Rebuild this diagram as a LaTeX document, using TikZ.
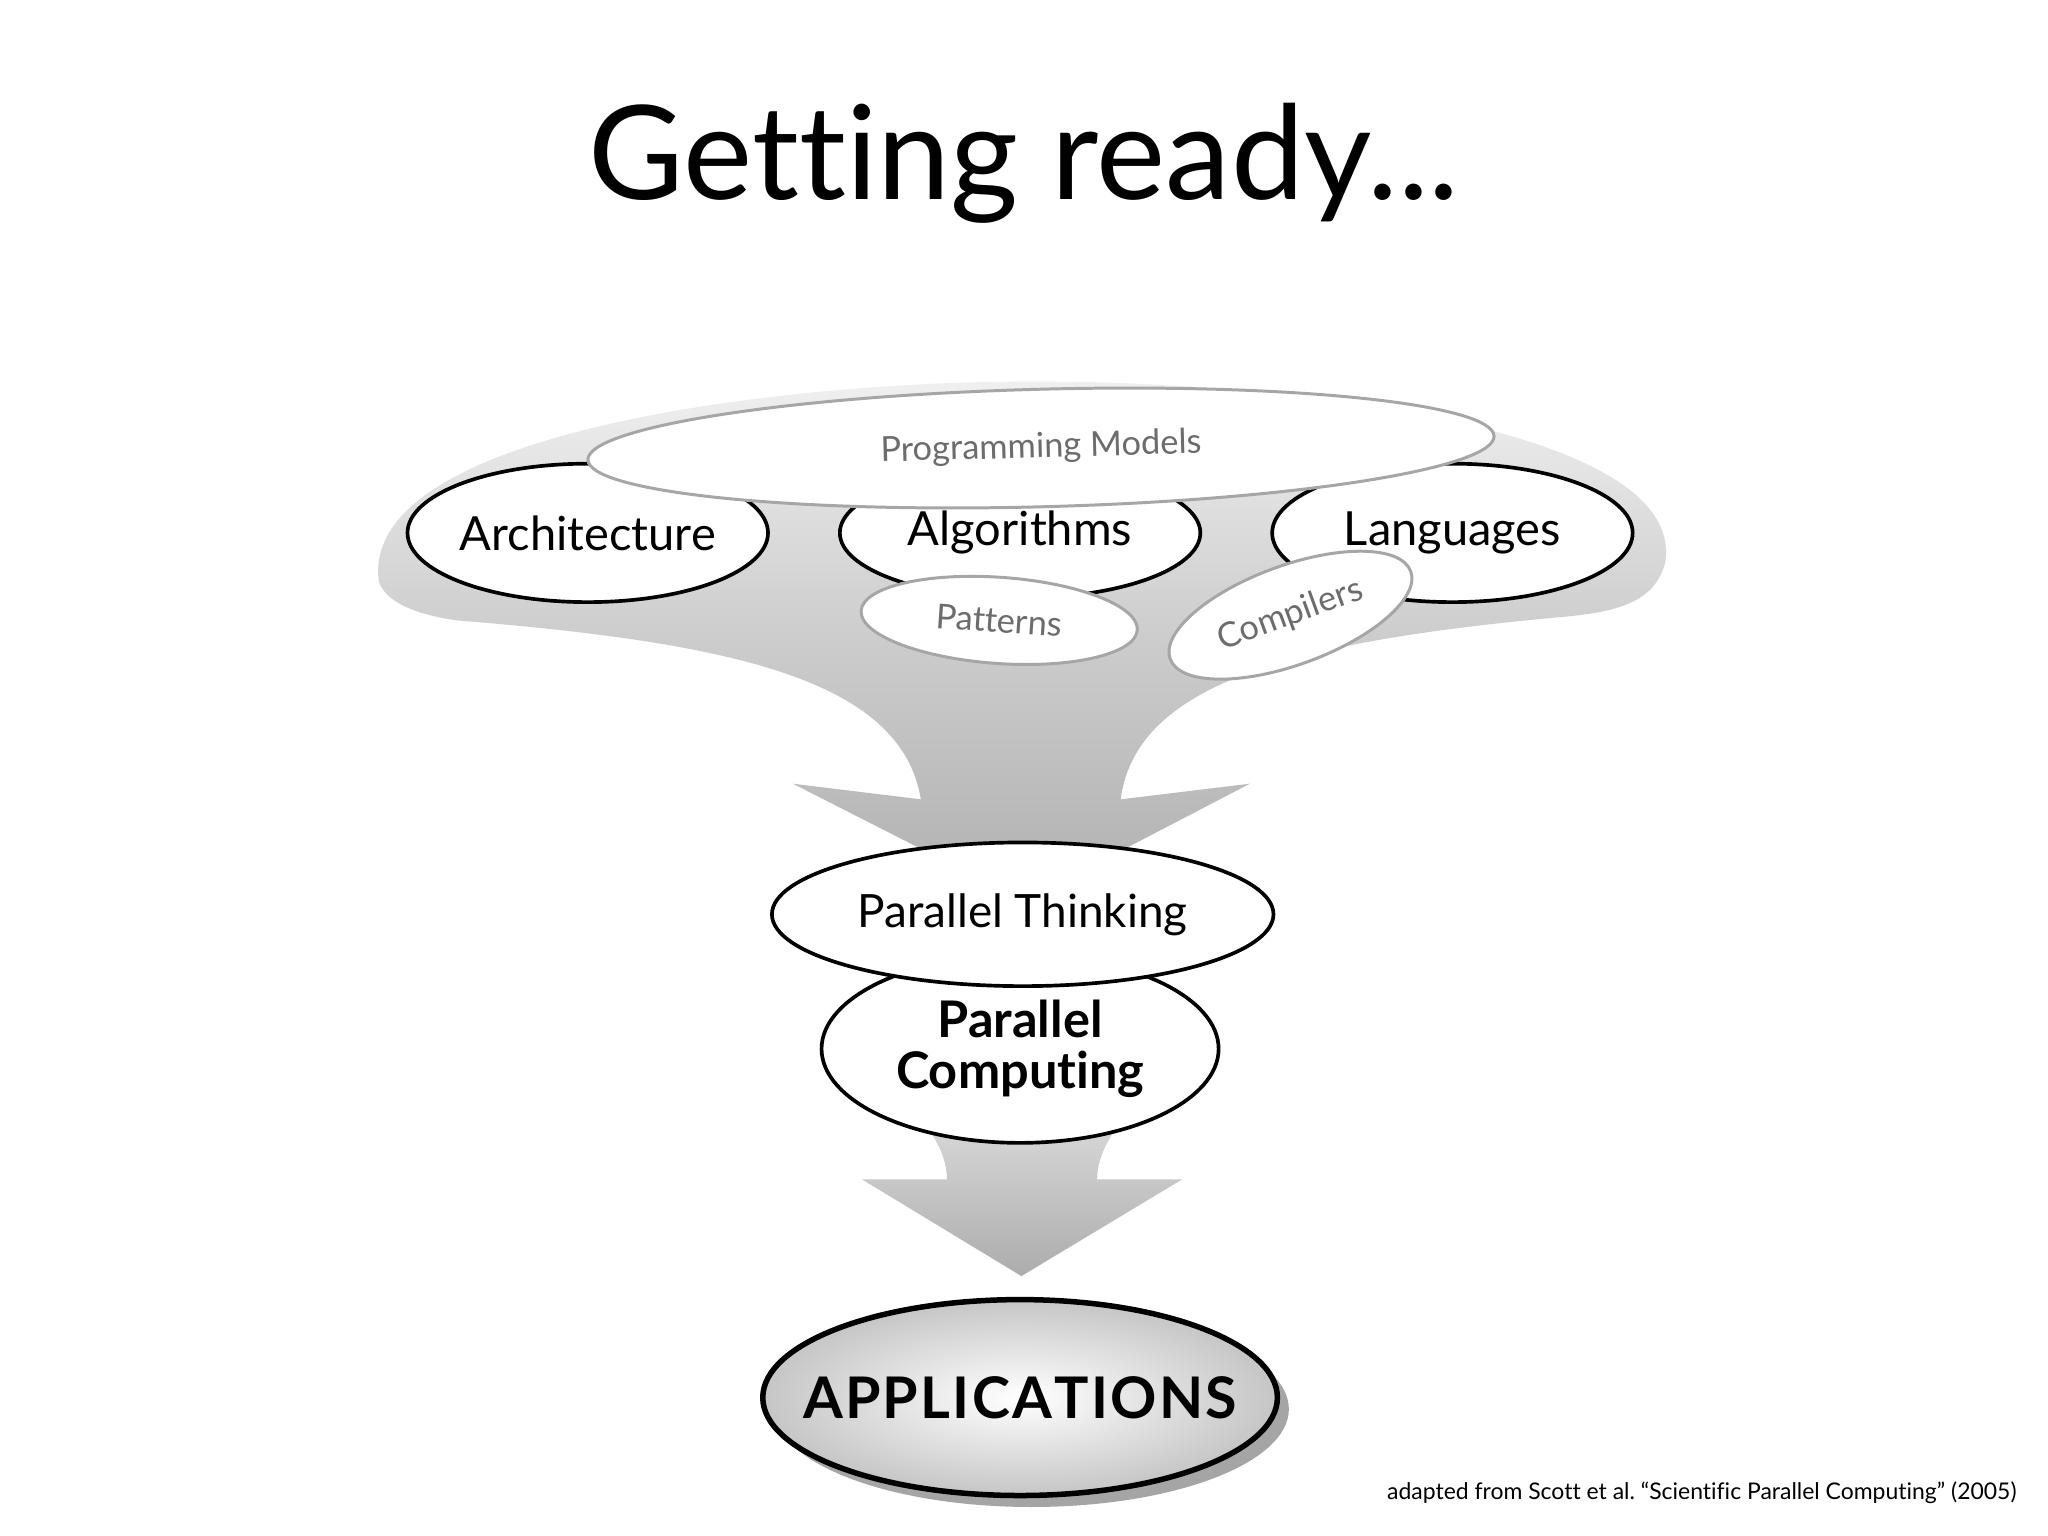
\documentclass[tikz,border=0pt]{standalone}
\usepackage{fontspec}
\setmainfont{Lato}[Ligatures={NoCommon}]
\usetikzlibrary{shapes.geometric,shadows}
\begin{document}
\begin{tikzpicture}[x=0.02cm,y=-0.02cm,
  ell/.style={ellipse,draw,line width=1.6pt,fill=white,inner sep=-8pt},
  gell/.style={ellipse,draw=gray!70,line width=1.3pt,fill=white,inner sep=-4pt,text=gray!85!black}]
\useasboundingbox (0,0) rectangle (1568,1176);
\node (title) at (784,125) {\fontsize{57}{60}\selectfont Getting ready...};
% funnel
\path[top color=gray!12,bottom color=gray!62,middle color=gray!40]
 (290,445) .. controls (275,330) and (600,292) .. (790,292)
 .. controls (1000,292) and (1290,330) .. (1275,430)
 .. controls (1268,460) and (1240,468) .. (1200,472)
 .. controls (1000,490) and (870,520) .. (858,612)
 -- (957,600) -- (784,690) -- (607,600) -- (705,612)
 .. controls (690,520) and (560,492) .. (350,475)
 .. controls (315,470) and (295,460) .. (290,445) -- cycle;
% second arrow
\path[top color=gray!25,bottom color=gray!65]
 (690,840) -- (875,840) .. controls (850,865) and (840,885) .. (840,903)
 -- (905,903) -- (782,977) -- (660,903) -- (725,903)
 .. controls (725,885) and (715,865) .. (690,840) -- cycle;
\node[ell,minimum width=276*0.02cm,minimum height=106*0.02cm] (arch) at (450,408) {\fontsize{20.5}{22}\selectfont Architecture};
\node[ell,minimum width=276*0.02cm,minimum height=100*0.02cm] (algo) at (781,408) {\fontsize{20.5}{22}\selectfont Algorithms};
\node[ell,minimum width=276*0.02cm,minimum height=106*0.02cm] (lang) at (1112,408) {\fontsize{20.5}{22}\selectfont Languages};
\node[gell,minimum width=694*0.02cm,minimum height=90*0.02cm,rotate=1.5] (pm) at (797,343) {\fontsize{15}{17}\selectfont Programming Models};
\node[gell,minimum width=212*0.02cm,minimum height=66*0.02cm,rotate=-4] (pat) at (765,475) {\fontsize{15}{17}\selectfont Patterns};
\node[gell,minimum width=196*0.02cm,minimum height=76*0.02cm,rotate=20] (comp) at (988,471) {\fontsize{15}{17}\selectfont Compilers};
\node[ell,minimum width=304*0.02cm,minimum height=144*0.02cm,align=center,font=\fontsize{22}{25}\selectfont\bfseries] (pc) at (781,803) {Parallel\\[-3pt]Computing};
\node[ell,minimum width=384*0.02cm,minimum height=110*0.02cm] (pt) at (783,700) {\fontsize{20}{22}\selectfont Parallel Thinking};
\node[ellipse,draw,line width=2.4pt,inner sep=-22pt,minimum width=394*0.02cm,minimum height=150*0.02cm,
  inner color=white,outer color=gray!45,
  drop shadow={shadow xshift=5pt,shadow yshift=-5pt,fill=black!70}] (app) at (781,1070)
  {\fontsize{25}{28}\selectfont\bfseries A\kern1pt P\kern1pt P\kern1pt L\kern1pt I\kern1pt C\kern1pt A\kern1pt T\kern1pt I\kern1pt O\kern1pt N\kern1pt S};
\node[anchor=east] (note) at (1550,1143) {\fontsize{10}{12}\selectfont adapted from Scott et al.~``Scientific Parallel Computing'' (2005)};
\end{tikzpicture}
\end{document}
